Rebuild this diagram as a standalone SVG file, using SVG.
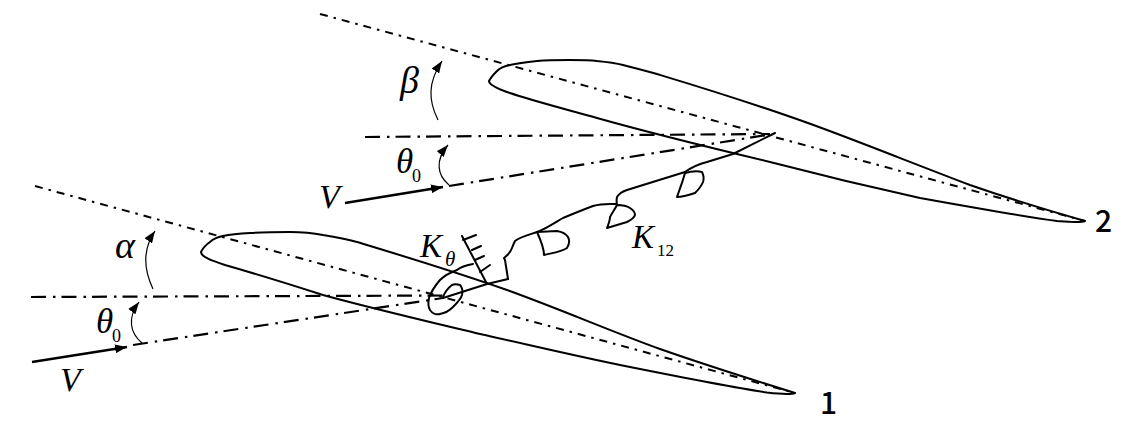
<svg xmlns="http://www.w3.org/2000/svg" width="1132" height="427" viewBox="0 0 1132 427">
<style>
.f{fill:none;stroke:#000;stroke-width:2;stroke-linejoin:round;stroke-linecap:round}
.d{fill:none;stroke:#000;stroke-width:2.2;stroke-dasharray:15 7 2.5 6}
.dt{fill:none;stroke:#000;stroke-width:2;stroke-dasharray:8 6 2.5 6}
.th{fill:none;stroke:#000;stroke-width:1.2}
.ar{fill:none;stroke:#000;stroke-width:2.4}
.m{font-family:"Liberation Serif",serif;font-style:italic;fill:#000}
.n{font-family:"Liberation Serif",serif;fill:#000}
.l{font-family:"Noto Sans CJK SC","Noto Sans",sans-serif;font-size:30px;font-weight:500;fill:#000}
</style>
<defs>
<marker id="a" markerUnits="userSpaceOnUse" markerWidth="13" markerHeight="10" refX="12" refY="5" orient="auto"><path d="M0 0.5L12 5L0 9.5Z" fill="#000"/></marker>
</defs>
<rect width="1132" height="427" fill="#fff"/>
<g id="connectors">
<path class="dt" d="M35 186L795 393"/>
<path class="dt" d="M320 14L1085 221"/>
<path class="d" d="M31 297L445 295.500"/>
<path class="d" d="M365 137L770 134"/>
<path class="d" d="M133 345L443 298"/>
<path class="d" d="M449 186L773 134"/>
<path class="ar" marker-end="url(#a)" d="M32 362L127 347"/>
<path class="ar" marker-end="url(#a)" d="M345 203L443 187"/>
<path class="th" marker-end="url(#a)" d="M153 289C144 270 142 250 155 231"/>
<path class="th" marker-end="url(#a)" d="M142 343C130 333 127 318 139 302"/>
<path class="th" marker-end="url(#a)" d="M438 120C428 100 428 82 442 61"/>
<path class="th" marker-end="url(#a)" d="M449 185C437 175 435 160 448 145"/>
</g>
<g id="airfoil-1">
<path class="f" d="M201 252C203 248 207 244 210 242C214 238 218 237 223 236C232 234 240 233.500 250 233C265 232 278 232 290 232C303 232 313 233 323 235C335 237 346 239 357 242C400 255 450 270 507 290C560 309 610 331 660 349C700 363 750 379 795 393C790 395 780 394 767 392.500C730 387 680 377 630 367C580 357 530 345 480 334C430 322 370 308 323 295C295 286 260 275 225 265C213 261 201 257 201 252Z"/>
</g>
<g id="airfoil-2">
<path class="f" d="M489 81C491 77 494 74 497 71C501 67 505 66 510 65C519 63 528 62 537 61C548 60 560 60 570 60C580 60 589 60 597 61C607 62 615 63 623 65C635 68 646 71 657 74C700 87 760 105 827 130C870 146 920 166 970 185C1010 199 1050 211 1085 221C1080 223 1070 222 1057 221C1020 216 970 207 920 198C870 187 820 175 770 162C720 150 650 133 597 118C565 109 530 100 510 93C498 89 489 85 489 81Z"/>
</g>
<g id="spring-torsion">
<path class="f" d="M473 264C466 265 461 267 457 270C449 273 444 276 440 280C434 287 431 292 429 298C428 303 428 307 430 310C432 313 436 315 440 314C446 313 450 310 453 307C458 302 461 299 462 295C463 290 462 287 460 285C457 284 454 284 452 285C448 288 445 292 443 297"/>
<path class="f" d="M443 298L487 284L508 279"/>
<path class="f" d="M462 236L487 284"/>
<path class="f" d="M463 240L476 235M472 250L481 246M475 260L484 256M480 272L490 265"/>
</g>
<g id="spring-coupling">
<path class="f" d="M508 279L505 260L504 258C508 255 511 251 512 248C513 245 514 243 515 241C520 237 528 235 537 232C544 230 553 224 563 218C575 213 585 209 593 206C600 204 606 204 610 204L617 204C616 200 617 198 617 197C620 192 624 191 627 190L685 172C692 167 699 164 707 162L733 154L775 133"/>
<path class="f" d="M537 232L557 231C563 232 566 234 568 237C570 241 569 245 567 248C561 252 552 253 544 255C544 249 542 243 537 232Z"/>
<path class="f" d="M617 205C623 205 627 206 630 208C633 210 635 212 635 215C634 218 631 220 627 222L607 228C609 223 610 220 610 217C612 213 615 209 617 205Z"/>
<path class="f" d="M685 173C692 171 698 171 702 172C704 176 704 179 703 182C701 187 698 190 695 193C689 195 683 197 677 197C679 191 682 184 685 173Z"/>
</g>
<g id="labels">
<text class="m" x="115" y="258" font-size="38">α</text>
<text class="m" x="96" y="333" font-size="35">θ</text>
<text class="n" x="112" y="342" font-size="18">0</text>
<text class="m" x="60" y="391" font-size="34">V</text>
<text class="m" x="400" y="93" font-size="38">β</text>
<text class="m" x="396" y="173" font-size="35">θ</text>
<text class="n" x="412" y="182" font-size="18">0</text>
<text class="m" x="319" y="208" font-size="34">V</text>
<text class="m" x="420" y="257" font-size="33">K</text>
<text class="m" x="445" y="266" font-size="21">θ</text>
<text class="m" x="632" y="248" font-size="33">K</text>
<text class="n" x="657" y="256" font-size="17">12</text>
<text class="l" x="820" y="414">1</text>
<text class="l" x="1095" y="232">2</text>
</g>
</svg>
